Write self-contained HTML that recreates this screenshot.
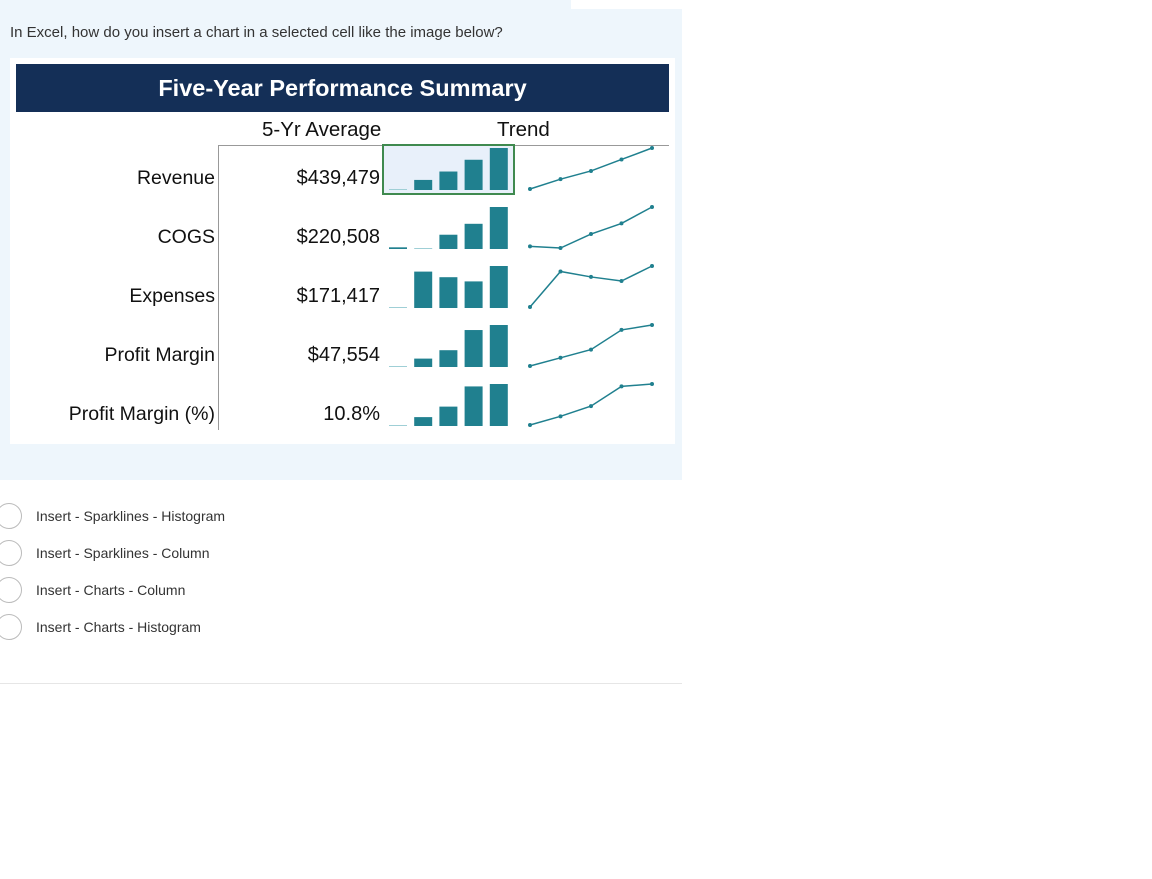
<!DOCTYPE html>
<html><head><meta charset="utf-8"><style>
body{margin:0;width:1152px;height:879px;background:#fff;font-family:"Liberation Sans",sans-serif;position:relative;overflow:hidden}
.abs{position:absolute}
.lbl{position:absolute;right:937px;font-size:19.5px;color:#111;white-space:nowrap}
.val{position:absolute;right:772px;font-size:20px;color:#111;white-space:nowrap}
.opt{position:absolute;left:36px;font-size:14px;color:#333}
.rad{position:absolute;left:-4px;width:24px;height:24px;border:1px solid #bbb;border-radius:50%;background:#fff}
</style></head><body>
<div class="abs" style="left:0;top:0;width:571px;height:9px;background:#eef6fc"></div>
<div class="abs" style="left:0;top:9px;width:682px;height:471px;background:#eef6fc"></div>
<div class="abs" style="left:10px;top:24px;font-size:15px;color:#333">In Excel, how do you insert a chart in a selected cell like the image below?</div>
<div class="abs" style="left:10px;top:58px;width:665px;height:386px;background:#fff"></div>
<div class="abs" style="left:16px;top:64px;width:653px;height:48px;background:#142f57;color:#fff;font-weight:bold;font-size:23.5px;line-height:48px;text-align:center">Five-Year Performance Summary</div>
<div class="abs" style="left:262px;top:118px;font-size:20.5px;color:#111">5-Yr Average</div>
<div class="abs" style="left:497px;top:118px;font-size:20.5px;color:#111">Trend</div>
<div class="abs" style="left:219px;top:145px;width:450px;height:1px;background:#999"></div>
<div class="abs" style="left:218px;top:145px;width:1px;height:285px;background:#999"></div>
<div class="abs" style="left:382px;top:144px;width:129px;height:47px;background:#e8f0fa;border:2px solid #3f8a4f"></div>
<svg class="abs" style="left:0;top:0" width="1152" height="879" id="spark"></svg>
<div class="rad" style="top:503px"></div>
<div class="opt" style="top:508px">Insert - Sparklines - Histogram</div>
<div class="rad" style="top:540px"></div>
<div class="opt" style="top:545px">Insert - Sparklines - Column</div>
<div class="rad" style="top:577px"></div>
<div class="opt" style="top:582px">Insert - Charts - Column</div>
<div class="rad" style="top:614px"></div>
<div class="opt" style="top:619px">Insert - Charts - Histogram</div>
<div class="abs" style="left:0;top:683px;width:682px;height:1px;background:#e6e6e6"></div>
<script>
const labels=["Revenue","COGS","Expenses","Profit Margin","Profit Margin (%)"];
const averages=["$439,479","$220,508","$171,417","$47,554","10.8%"];
const revenue=[380000,404000,424000,452000,480000];
const cogs=[200000,198000,215000,228000,248000];
const expenses=[150000,176000,172000,169000,180000];
const profit=[30000,35000,40000,52000,55000];
const profitPct=[7.9,9.0,10.3,12.8,13.1];
const series=[revenue,cogs,expenses,profit,profitPct];
const svg=document.getElementById('spark');const NS='http://www.w3.org/2000/svg';
const C='#20808f';
series.forEach((vals,r)=>{
  const base=190+r*59;
  const lb=document.createElement('div');lb.className='lbl';lb.style.top=(base-23)+'px';lb.textContent=labels[r];
  
  
  document.body.appendChild(lb);
  const vl=document.createElement('div');vl.className='val';vl.style.top=(base-23)+'px';vl.textContent=averages[r];
  
  
  document.body.appendChild(vl);
  const mn=Math.min(...vals),mx=Math.max(...vals);
  const sc=v=>(v-mn)/(mx-mn);
  vals.forEach((v,i)=>{
    const h=Math.max(1,sc(v)*42);
    const b=document.createElementNS(NS,'rect');
    b.setAttribute('x',389+i*25.2);b.setAttribute('y',base-h);b.setAttribute('width',18);b.setAttribute('height',h);
    b.setAttribute('fill',sc(v)<0.02?'#9fcfd6':C);
    
    
    svg.appendChild(b);
  });
  const pts=vals.map((v,i)=>[530+i*30.5,base-1-sc(v)*41]);
  const pl=document.createElementNS(NS,'polyline');
  pl.setAttribute('points',pts.map(p=>p.join(',')).join(' '));
  pl.setAttribute('fill','none');pl.setAttribute('stroke',C);pl.setAttribute('stroke-width','1.5');
  
  
  svg.appendChild(pl);
  pts.forEach(p=>{const c=document.createElementNS(NS,'circle');c.setAttribute('cx',p[0]);c.setAttribute('cy',p[1]);c.setAttribute('r',2);c.setAttribute('fill',C);
    
    
    svg.appendChild(c);});
});
</script>
</body></html>
